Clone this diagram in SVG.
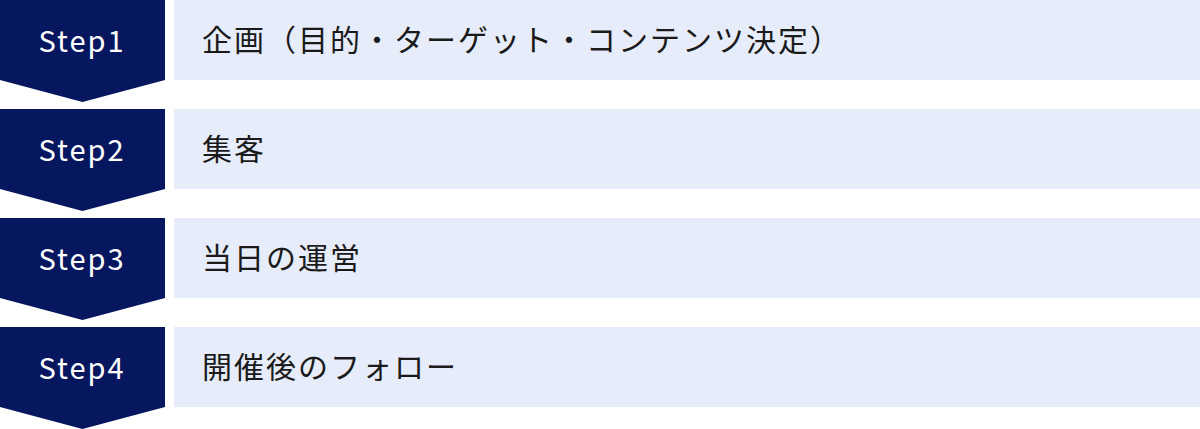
<svg xmlns="http://www.w3.org/2000/svg" width="1200" height="429" viewBox="0 0 1200 429">
<style>
.chev{fill:#06175f}
.box{fill:#e6ecf9}
.st{font-family:"Noto Sans CJK JP","Noto Sans",sans-serif;font-size:29px;fill:#ffffff;letter-spacing:2px;text-anchor:middle}
.lb{font-family:"Noto Sans CJK JP","Noto Sans",sans-serif;font-size:30px;fill:#1a1a1a;letter-spacing:2px}
</style>
<rect width="1200" height="429" fill="#ffffff"/>
<g id="step1">
<path class="chev" d="M0 0H165V80L82.5 102L0 80Z"/>
<text class="st" x="82" y="52">Step1</text>
<rect class="box" x="174" y="0" width="1026" height="80"/>
<text class="lb" x="202" y="51">企画（目的・ターゲット・コンテンツ決定）</text>
</g>
<g id="step2">
<path class="chev" d="M0 109H165V189L82.5 211L0 189Z"/>
<text class="st" x="82" y="161">Step2</text>
<rect class="box" x="174" y="109" width="1026" height="80"/>
<text class="lb" x="202" y="160">集客</text>
</g>
<g id="step3">
<path class="chev" d="M0 218H165V298L82.5 320L0 298Z"/>
<text class="st" x="82" y="270">Step3</text>
<rect class="box" x="174" y="218" width="1026" height="80"/>
<text class="lb" x="202" y="269">当日の運営</text>
</g>
<g id="step4">
<path class="chev" d="M0 327H165V407L82.5 429L0 407Z"/>
<text class="st" x="82" y="379">Step4</text>
<rect class="box" x="174" y="327" width="1026" height="80"/>
<text class="lb" x="202" y="378">開催後のフォロー</text>
</g>
<g id="connectors"></g>
</svg>
